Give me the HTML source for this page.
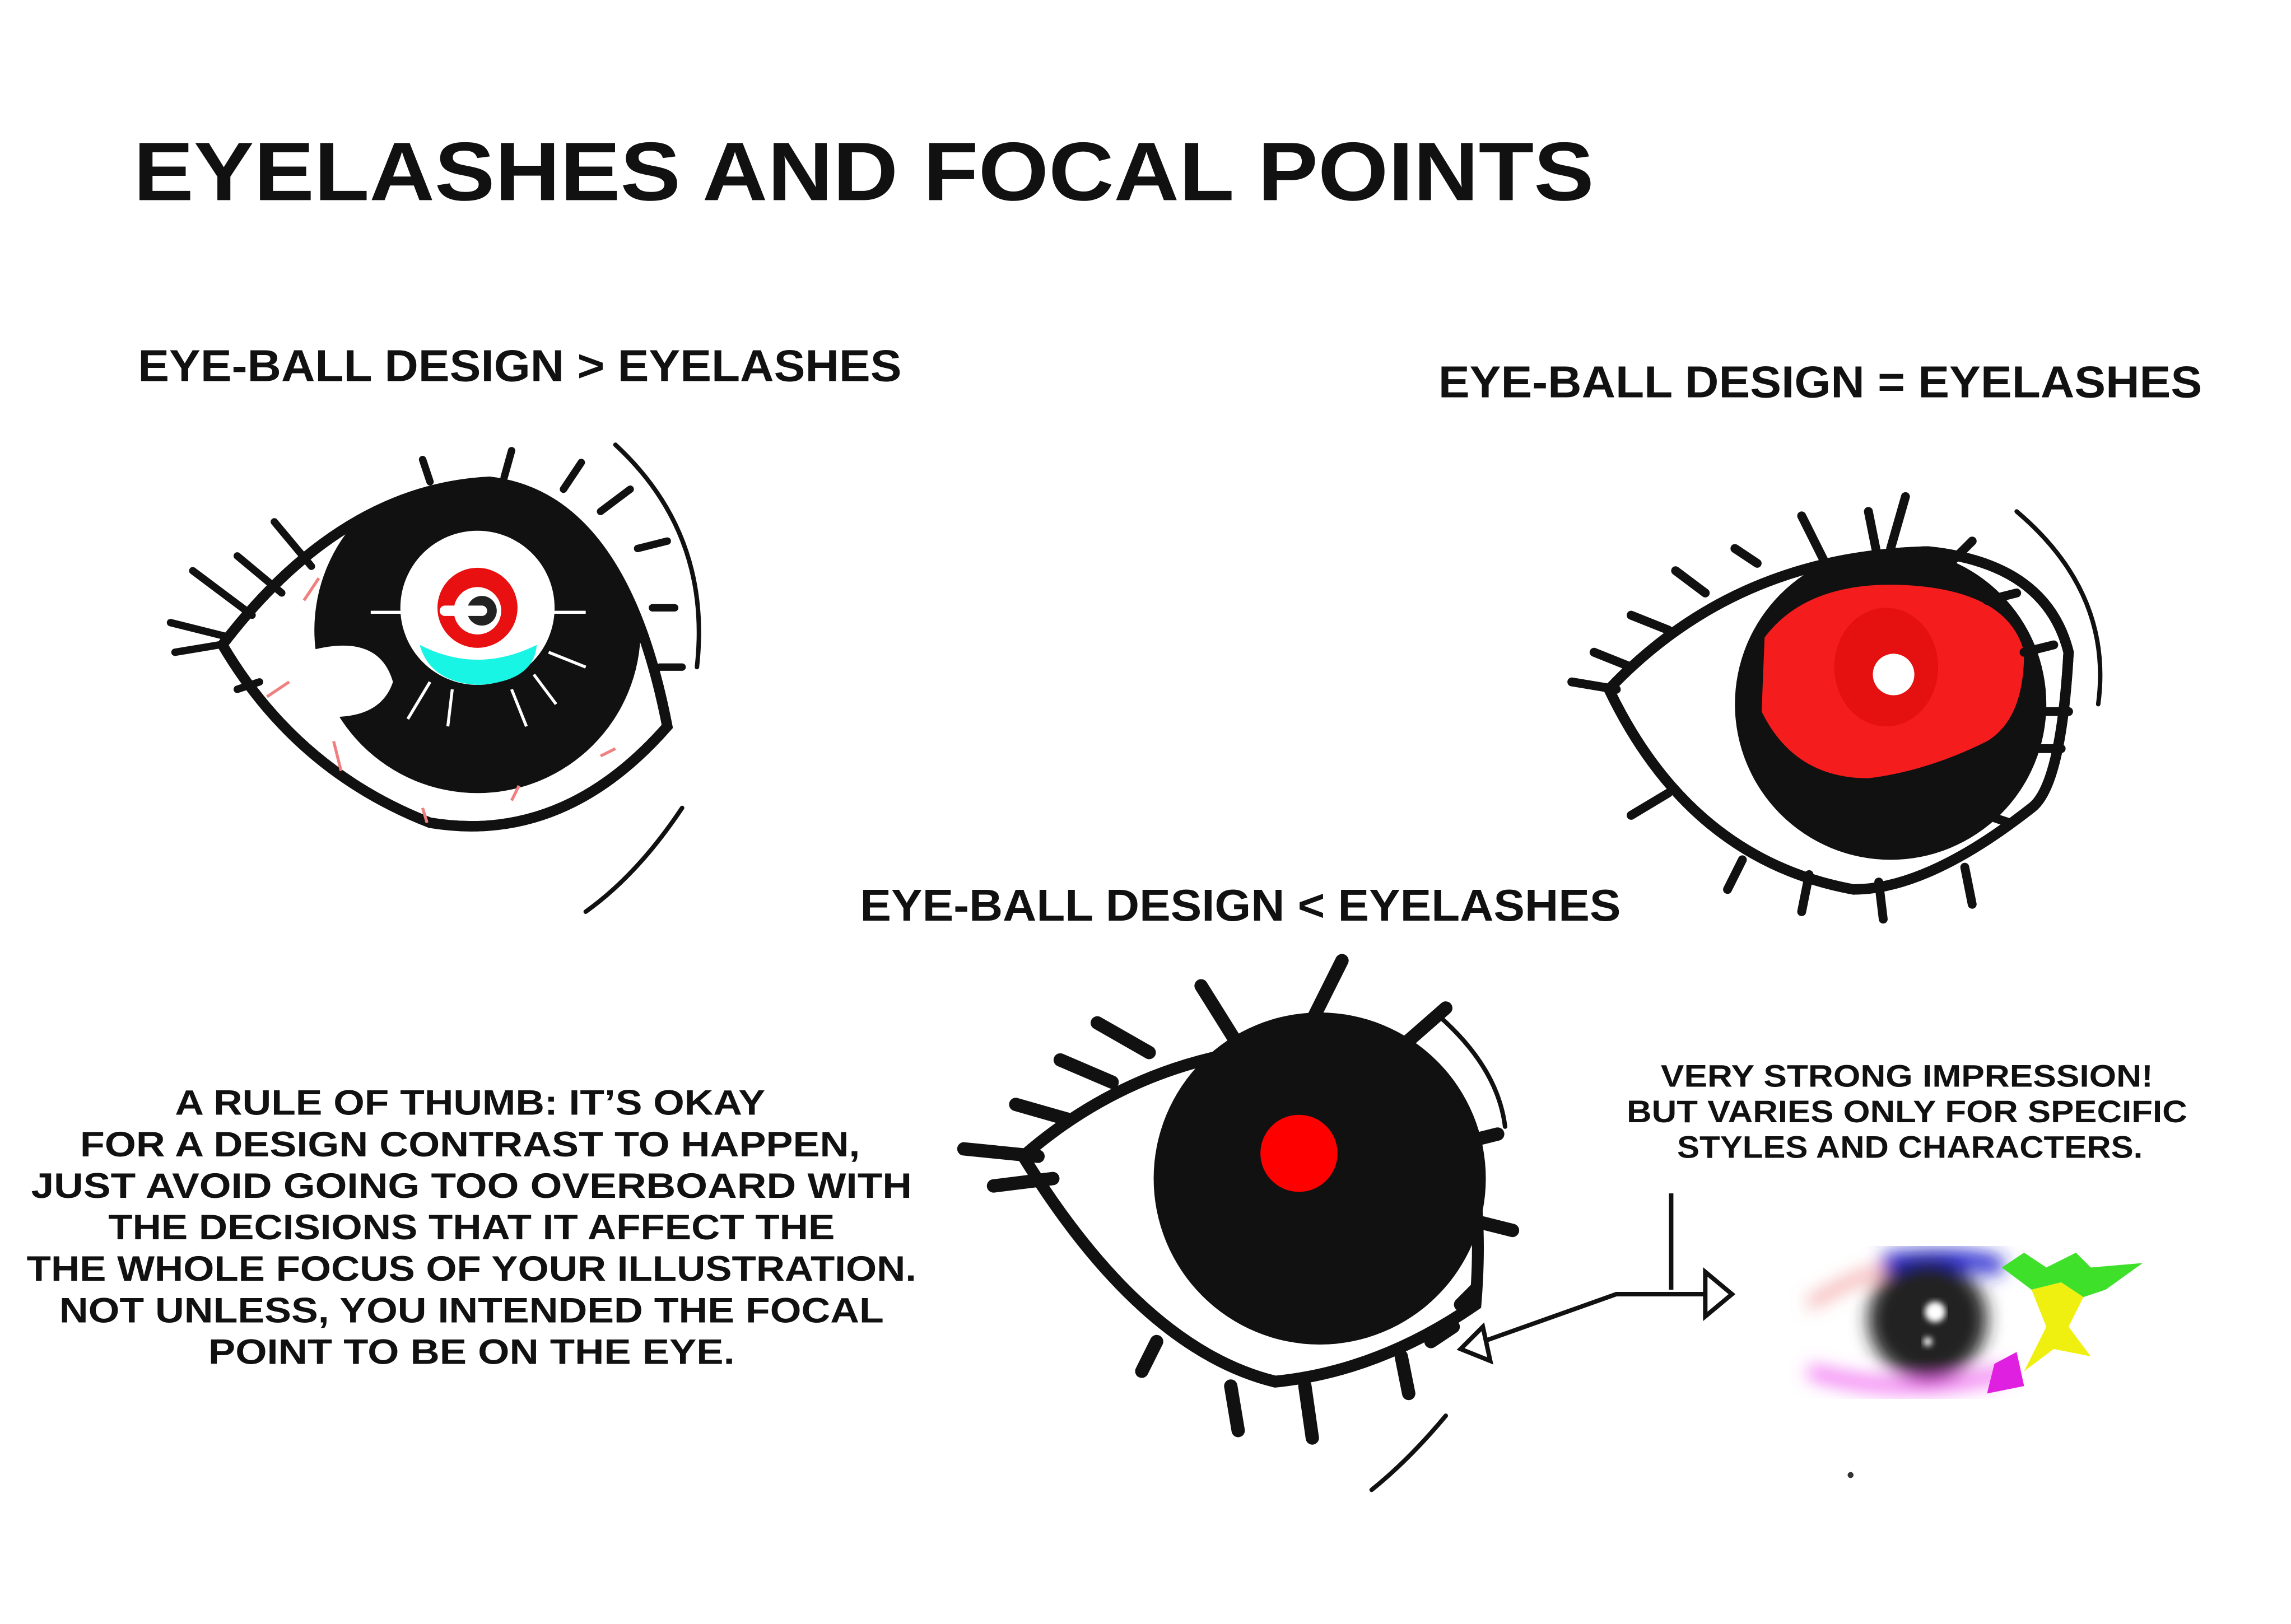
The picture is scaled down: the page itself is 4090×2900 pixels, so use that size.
<!DOCTYPE html>
<html><head><meta charset="utf-8"><style>
html,body{margin:0;padding:0;background:#fff;}
svg{display:block}
text{font-family:"Liberation Sans",sans-serif;font-weight:bold;fill:#111}
</style></head><body>
<svg width="4090" height="2900" viewBox="0 0 1545 1095.5" preserveAspectRatio="none" xmlns="http://www.w3.org/2000/svg">
<defs><filter id="b"><feGaussianBlur stdDeviation="6"/></filter><filter id="b2"><feGaussianBlur stdDeviation="2"/></filter>
<clipPath id="c1"><path d="M150 435 Q230 330 330 325 Q420 335 450 490 Q380 570 290 555 Q200 520 150 435 Z"/></clipPath>
<clipPath id="c2"><path d="M1085 465 Q1170 375 1300 372 Q1380 380 1395 440 Q1390 530 1370 545 Q1300 600 1250 600 Q1140 580 1085 465Z"/></clipPath>
</defs>
<rect width="1545" height="1096" fill="#fff"/>
<text x="90" y="135" font-size="56" textLength="985" lengthAdjust="spacingAndGlyphs">EYELASHES AND FOCAL POINTS</text>
<text x="93" y="257" font-size="30" textLength="515" lengthAdjust="spacingAndGlyphs">EYE-BALL DESIGN &gt; EYELASHES</text>
<text x="970" y="268" font-size="30" textLength="515" lengthAdjust="spacingAndGlyphs">EYE-BALL DESIGN = EYELASHES</text>
<text x="580" y="621" font-size="30" textLength="513" lengthAdjust="spacingAndGlyphs">EYE-BALL DESIGN &lt; EYELASHES</text>
<g font-size="24" text-anchor="middle">
<text x="317" y="752" textLength="398" lengthAdjust="spacingAndGlyphs">A RULE OF THUMB: IT’S OKAY</text>
<text x="317" y="780" textLength="526" lengthAdjust="spacingAndGlyphs">FOR A DESIGN CONTRAST TO HAPPEN,</text>
<text x="318" y="808" textLength="594" lengthAdjust="spacingAndGlyphs">JUST AVOID GOING TOO OVERBOARD WITH</text>
<text x="318" y="836" textLength="490" lengthAdjust="spacingAndGlyphs">THE DECISIONS THAT IT AFFECT THE</text>
<text x="318" y="864" textLength="600" lengthAdjust="spacingAndGlyphs">THE WHOLE FOCUS OF YOUR ILLUSTRATION.</text>
<text x="318" y="892" textLength="556" lengthAdjust="spacingAndGlyphs">NOT UNLESS, YOU INTENDED THE FOCAL</text>
<text x="318" y="920" textLength="355" lengthAdjust="spacingAndGlyphs">POINT TO BE ON THE EYE.</text>
</g>
<g font-size="21" text-anchor="middle">
<text x="1286" y="733" textLength="332" lengthAdjust="spacingAndGlyphs">VERY STRONG IMPRESSION!</text>
<text x="1286" y="757" textLength="378" lengthAdjust="spacingAndGlyphs">BUT VARIES ONLY FOR SPECIFIC</text>
<text x="1288" y="781" textLength="314" lengthAdjust="spacingAndGlyphs">STYLES AND CHARACTERS.</text>
</g>

<!-- Eye 1 -->
<g stroke="#111" fill="none" stroke-linecap="round">
<path d="M415 300 Q480 360 470 450" stroke-width="3"/>
<path d="M460 545 Q430 590 395 615" stroke-width="3"/>
<path d="M150 435 Q230 330 330 325 Q420 335 450 490 Q380 570 290 555 Q200 520 150 435 Z" stroke-width="7" fill="#fff"/>
</g>
<g clip-path="url(#c1)">
<circle cx="322" cy="425" r="110" fill="#111"/>
<path d="M205 440 Q255 425 265 460 Q255 490 205 482 Z" fill="#fff"/>
</g>
<g stroke="#111" fill="none" stroke-linecap="round">
<path d="M150 435 Q230 330 330 325 Q420 335 450 490 Q380 570 290 555 Q200 520 150 435 Z" stroke-width="7"/>
<path d="M130 385l40 30M160 375l30 25M185 352l25 30M115 420l40 10M118 440l30 -5M290 325l-5-15M340 322l5-18M380 330l12-18M405 345l20-15M430 370l20-5M440 410l15 0M445 450l15 0M175 460l-15 5" stroke-width="5"/>
</g>
<circle cx="322" cy="410" r="52" fill="#fff"/>
<path d="M283 435 Q322 455 362 435 Q360 460 322 462 Q290 460 283 435Z" fill="#19f5e4"/>
<circle cx="322" cy="410" r="27" fill="#e81010"/>
<circle cx="322" cy="412" r="16" fill="#fff"/>
<circle cx="325" cy="412" r="10" fill="#222"/>
<path d="M300 412h25" stroke="#fff" stroke-width="7" stroke-linecap="round"/>
<g stroke="#fff" stroke-width="2"><path d="M250 413h25M370 413h25M290 460l-15 25M305 465l-3 25M345 465l10 25M360 455l15 20M370 440l25 10"/></g>
<g stroke="#f08080" stroke-width="2" fill="none"><path d="M205 405l10-15M180 470l15-10M225 500l5 20M285 545l3 10M345 540l5-10M405 510l10-5"/></g>

<!-- Eye 2 -->
<g stroke="#111" fill="none" stroke-linecap="round">
<path d="M1360 345 Q1425 400 1415 475" stroke-width="3"/>
<path d="M1085 465 Q1170 375 1300 372 Q1380 380 1395 440 Q1390 530 1370 545 Q1300 600 1250 600 Q1140 580 1085 465Z" stroke-width="7" fill="#fff"/>
</g>
<g clip-path="url(#c2)">
<circle cx="1275" cy="475" r="105" fill="#111"/>
<path d="M1190 430 Q1220 390 1290 395 Q1355 400 1365 440 Q1365 485 1340 500 Q1300 520 1260 525 Q1210 525 1188 480 Z" fill="#f41c1c"/>
</g>
<ellipse cx="1272" cy="450" rx="35" ry="40" fill="#e51010"/>
<circle cx="1277" cy="455" r="14" fill="#fff"/>
<g stroke="#111" fill="none" stroke-linecap="round">
<path d="M1085 465 Q1170 375 1300 372 Q1380 380 1395 440 Q1390 530 1370 545 Q1300 600 1250 600 Q1140 580 1085 465Z" stroke-width="7"/>
<path d="M1215 348l15 30M1285 335l-10 35M1260 345l5 25M1170 370l15 10M1130 385l20 15M1100 415l25 10M1075 440l25 10M1060 460l30 5M1330 365l-15 15M1360 400l-20 5M1385 435l-20 5M1395 480l-20 0M1390 505l-15 0M1100 550l25-15M1165 600l10-20M1215 615l5-25M1270 620l-3-25M1330 610l-5-25M1355 555l-15-5" stroke-width="6"/>
</g>

<!-- Eye 3 -->
<g stroke="#111" fill="none" stroke-linecap="round">
<path d="M970 685 Q1010 720 1015 760" stroke-width="3"/>
<path d="M975 955 Q950 985 925 1005" stroke-width="3"/>
<path d="M690 780 Q770 710 880 705 Q970 712 990 775 Q1000 820 995 880 Q930 925 860 932 Q770 910 690 780Z" stroke-width="8" fill="#fff"/>
<path d="M740 690l35 20M810 665l25 40M905 648l-25 50M975 680l-40 35M715 715l35 15M685 745l35 10M650 775l50 5M670 800l40-5M990 770l20-5M1000 825l20 5M995 870l-10 10M780 905l-10 20M830 935l5 30M880 935l5 35M945 915l5 25M980 895l-15 10" stroke-width="9"/>
</g>
<circle cx="890" cy="795" r="112" fill="#111"/>
<circle cx="876" cy="778" r="26" fill="#f00"/>

<!-- Arrow -->
<g stroke="#111" stroke-width="3" fill="none">
<path d="M1127 805 V870"/>
<path d="M1000 905 L1090 873 H1150"/>
<path d="M1150 858 L1168 873 L1150 888 Z" fill="#fff"/>
<path d="M1000 895 L985 910 L1005 918 Z" fill="#fff"/>
</g>

<!-- blurry eye -->
<g filter="url(#b)">
<path d="M1220 880 Q1280 840 1350 855" stroke="#f08080" stroke-width="5" fill="none"/>
<path d="M1270 852 Q1320 845 1350 855" stroke="#2020d0" stroke-width="12" fill="none"/>
<path d="M1220 925 Q1290 945 1355 925" stroke="#f060f0" stroke-width="8" fill="none"/>
<circle cx="1300" cy="890" r="40" fill="#222"/>
</g>
<g filter="url(#b2)">
<circle cx="1305" cy="885" r="7" fill="#fff"/>
<circle cx="1300" cy="905" r="3" fill="#fff"/>
</g>
<path d="M1350 855 L1365 845 L1380 855 L1400 845 L1410 855 L1445 852 L1420 870 L1405 875 L1390 865 L1370 870 Z" fill="#3ee02a"/>
<path d="M1370 870 L1390 865 L1405 875 L1395 895 L1410 915 L1385 910 L1365 925 L1380 895 Z" fill="#f0f010"/>
<path d="M1345 920 L1360 912 L1365 935 L1340 940 Z" fill="#e020e0"/>
<circle cx="1248" cy="995" r="2" fill="#333"/>
</svg>
</body></html>
